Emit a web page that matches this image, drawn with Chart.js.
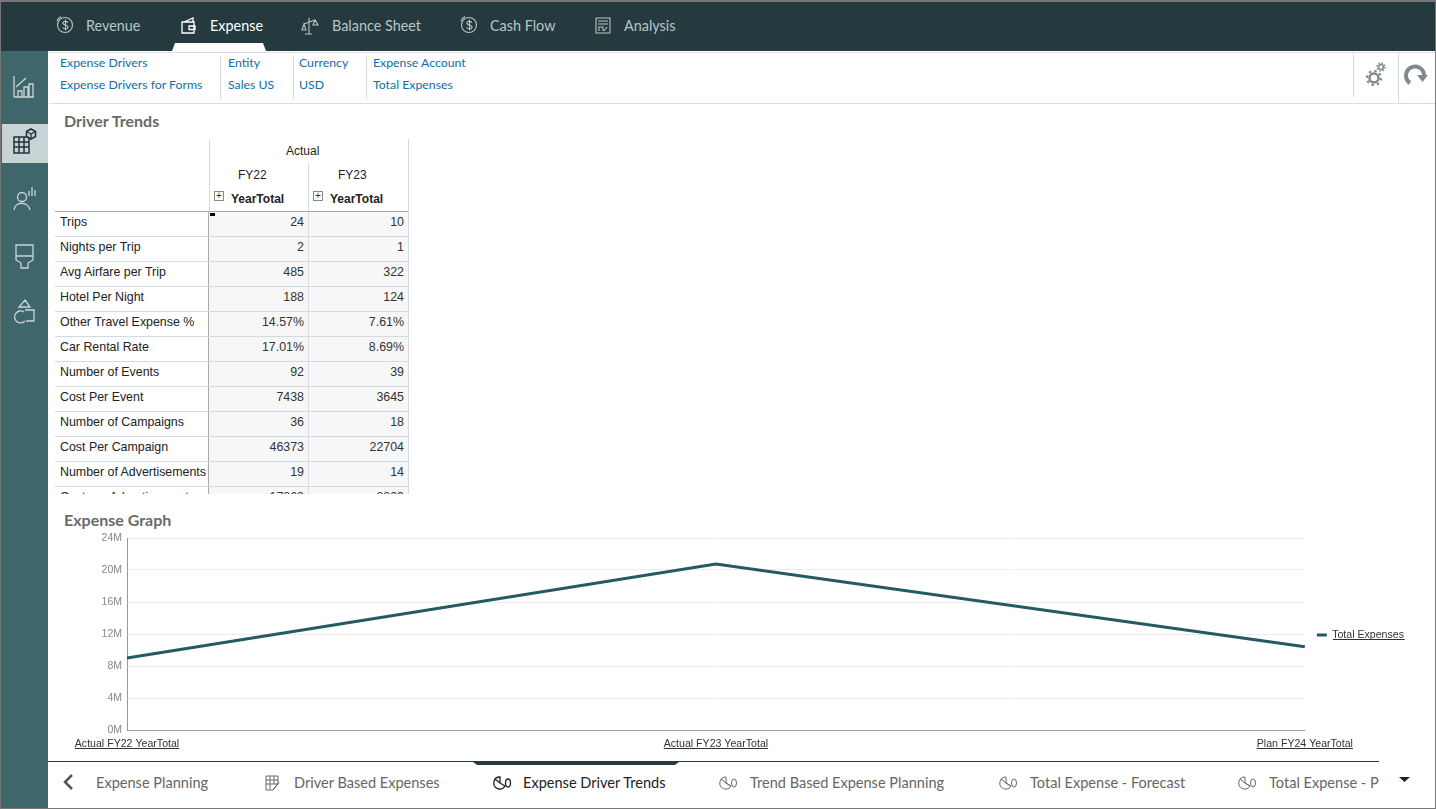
<!DOCTYPE html>
<html>
<head>
<meta charset="utf-8">
<title>Expense Driver Trends</title>
<script src="https://cdn.jsdelivr.net/npm/chart.js@4/dist/chart.umd.min.js"></script>
<style>
html, body { margin: 0; padding: 0; background: #fff; overflow: hidden; }
#page { position: absolute; left: 0; top: 0; width: 1436px; height: 809px; overflow: hidden; font-family: Lato, sans-serif; }
#page div { position: absolute; white-space: nowrap; }
#frame { left: 0; top: 0; width: 1434px; height: 806px; border: 1px solid #777; border-top-width: 2px; z-index: 9; pointer-events: none; }
#topbar { left: 0; top: 0; width: 1436px; height: 51px; background: #253a3f; }
#tabnotch { left: 172px; top: 43px; width: 94px; height: 8px; background: #fff; clip-path: polygon(3px 0, 91px 0, 94px 100%, 0 100%); }
.nav { top: 17px; font-size: 14.4px; color: #b9c4c6; line-height: 18px; }
#sidebar { left: 0; top: 51px; width: 48px; height: 758px; background: #3f666b; }
#sideactive { left: 2px; top: 124px; width: 46px; height: 39px; background: #c7d3d4; }
#povbar { left: 49px; top: 52px; width: 1387px; height: 50px; border-bottom: 1px solid #d8dee4; border-top: 1px solid #d8dee4; background: #fff; }
.link { font-size: 12.3px; color: #0d6fa8; line-height: 14px; }
.vsep { width: 1px; background: #d3dbe2; }
.title { font-size: 16px; font-weight: 700; color: #6a6a6a; line-height: 18px; }
.cell { font-family: "Liberation Sans", Arial, sans-serif; font-size: 12.4px; line-height: 14px; color: #222; }
.head { font-size: 12px; }
.num { text-align: right; color: #333; }
#grid { left: 55px; top: 139px; width: 355px; height: 355px; overflow: hidden; }
.bottomtab { top: 774px; font-size: 14.55px; color: #666; line-height: 18px; }
canvas { display: block; }
#chartbox { left: 48px; top: 519px; width: 1364px; height: 231px; }
</style>
</head>
<body>
<div id="page">
  <div id="topbar"></div>
  <div id="tabnotch"></div>
  <div class="nav" style="left:86px">Revenue</div>
  <div class="nav" style="left:210px;color:#fff">Expense</div>
  <div class="nav" style="left:332px">Balance Sheet</div>
  <div class="nav" style="left:490px">Cash Flow</div>
  <div class="nav" style="left:624px">Analysis</div>

  <svg style="position:absolute;left:0;top:0;z-index:2" width="720" height="51" fill="none" stroke="#b9c4c6" stroke-width="1.1">
    <circle cx="65" cy="25" r="7.500"/><path d="M57 21a8.500 8.500 0 0 1 4-4.500"/><path d="M68 22.500c-2-2-5.500-1-5 1s5 1 5 3.500-4 2.500-5.500 .5M65.500 19.500v11"/>
    <path stroke="#fff" stroke-width="1.300" d="M182 22h12v11h-12zM184 22l9-4v4M189 26h6v3.500h-6z"/>
    <path d="M305 34h7M309 18v16M304 24l11-4M304 24l-2 6h4zM315 20l-2 5h5z"/>
    <circle cx="469" cy="25" r="7.500"/><path d="M461 21a8.500 8.500 0 0 1 4-4.500"/><path d="M472 22.500c-2-2-5.500-1-5 1s5 1 5 3.500-4 2.500-5.500 .5M469.500 19.500v11"/>
    <path d="M596 18h14v15h-14zM598 21h10M598 24h10M599 31v-4h4v4M604 31l3-4"/>
  </svg>

  <div id="sidebar"></div>
  <div id="sideactive"></div>
  <svg style="position:absolute;left:0;top:60px;z-index:2" width="48" height="280" fill="none" stroke="#c9d5d6" stroke-width="1.300">
    <path d="M14 37V16M14 37h20M16 27l10-9M18 37v-6h4v6M24 37v-10h4v10M29 37v-13h4v13"/>
    <path stroke="#20343a" stroke-width="1.500" d="M14 77h15v16H14zM14 82h15M14 87h15M19 77v16M24 77v16"/>
    <path fill="#c7d3d4" stroke="#20343a" stroke-width="1.600" d="M31 69l4.500 2.500v5L31 79l-4.500-2.500v-5z"/>
    <path stroke="#20343a" d="M26.500 71.500L31 74l4.500-2.500M31 74v5"/>
    <circle cx="22" cy="137" r="4.500"/><path d="M14 150c1-9 14-9 16 0M29 136v-5M32 136v-9M35 136v-6"/>
    <path d="M16 185h17v15l-5 3v5h-7v-5l-5-3zM16 196h17"/>
    <path d="M25 240l5 7H19zM25 250h9v11h-8M24 252a6 6 0 1 0 1 9"/>
  </svg>

  <div id="povbar"></div>
  <div class="link" style="left:60px;top:56px">Expense Drivers</div>
  <div class="link" style="left:60px;top:78px">Expense Drivers for Forms</div>
  <div class="link" style="left:228px;top:56px">Entity</div>
  <div class="link" style="left:228px;top:78px">Sales US</div>
  <div class="link" style="left:299px;top:56px">Currency</div>
  <div class="link" style="left:299px;top:78px">USD</div>
  <div class="link" style="left:373px;top:56px">Expense Account</div>
  <div class="link" style="left:373px;top:78px">Total Expenses</div>
  <div class="vsep" style="left:220px;top:55px;height:44px"></div>
  <div class="vsep" style="left:293px;top:55px;height:44px"></div>
  <div class="vsep" style="left:366px;top:55px;height:44px"></div>
  <div class="vsep" style="left:1353px;top:53px;height:44px"></div>
  <div class="vsep" style="left:1398px;top:53px;height:50px"></div>
  <svg style="position:absolute;left:1360px;top:60px" width="70" height="32" fill="none" stroke="#7d8a8f">
    <circle cx="14" cy="18" r="4.500" stroke-width="2.500"/>
    <circle cx="14" cy="18" r="7" stroke-width="2.200" stroke-dasharray="2.500 3"/>
    <circle cx="21" cy="7" r="2.400" stroke-width="1.500"/>
    <circle cx="21" cy="7" r="4" stroke-width="1.500" stroke-dasharray="1.500 1.640"/>
    <path stroke-width="4" d="M50 23a9 9 0 1 1 14-8"/>
    <path stroke="none" fill="#7d8a8f" d="M57 15h11l-5.500 7z"/>
  </svg>

  <div class="title" style="left:64px;top:112px">Driver Trends</div>
  <div id="grid"></div>

  <div class="title" style="left:64px;top:511px">Expense Graph</div>
  <div id="chartbox"><canvas id="myChart" width="1364" height="231"></canvas></div>

  <div style="left:48px;top:761px;width:1331px;height:1px;background:#25393e"></div>
  <div style="left:473px;top:762px;width:206px;height:3px;background:#25393e;clip-path:polygon(0 0,100% 0,98% 100%,2% 100%)"></div>
  <div class="bottomtab" style="left:96px">Expense Planning</div>
  <div class="bottomtab" style="left:294px">Driver Based Expenses</div>
  <div class="bottomtab" style="left:523px;color:#222">Expense Driver Trends</div>
  <div class="bottomtab" style="left:750px">Trend Based Expense Planning</div>
  <div class="bottomtab" style="left:1030px">Total Expense - Forecast</div>
  <div class="bottomtab" style="left:1269px;width:110px;overflow:hidden">Total Expense - Plan</div>
  <svg style="position:absolute;left:48px;top:765px" width="1370" height="34" fill="none" stroke="#666" stroke-width="1">
    <path stroke="#555" stroke-width="2.500" d="M24 10l-7 7 7 7"/>
    <path d="M218 11h12v8l-5 6h-7zM218 15h12M218 19h12M222 11v13M226 11v8M225 25l6-8"/>
    <g stroke="#222" stroke-width="1.300"><path d="M452 18v-6a6 6 0 1 0 5 9zM452 18l5 3M447 14l5 4"/><ellipse cx="460" cy="18" rx="2.500" ry="4"/></g>
    <g><path d="M678 18v-6a6 6 0 1 0 5 9zM678 18l5 3M673 14l5 4"/><ellipse cx="686" cy="18" rx="2.500" ry="4"/></g>
    <g><path d="M958 18v-6a6 6 0 1 0 5 9zM958 18l5 3M953 14l5 4"/><ellipse cx="966" cy="18" rx="2.500" ry="4"/></g>
    <g><path d="M1197 18v-6a6 6 0 1 0 5 9zM1197 18l5 3M1192 14l5 4"/><ellipse cx="1205" cy="18" rx="2.500" ry="4"/></g>
    <path stroke="none" fill="#222" d="M1351 12h11l-5.500 5z"/>
  </svg>
  <div id="frame"></div>
</div>
<script>
// grid data
var rowNames = ['Trips', 'Nights per Trip', 'Avg Airfare per Trip', 'Hotel Per Night', 'Other Travel Expense %', 'Car Rental Rate', 'Number of Events', 'Cost Per Event', 'Number of Campaigns', 'Cost Per Campaign', 'Number of Advertisements', 'Cost per Advertisement'];
var fy22Values = ['24', '2', '485', '188', '14.57%', '17.01%', '92', '7438', '36', '46373', '19', '17863'];
var fy23Values = ['10', '1', '322', '124', '7.61%', '8.69%', '39', '3645', '18', '22704', '14', '8839'];

// chart data
var categories = ['Actual FY22 YearTotal', 'Actual FY23 YearTotal', 'Plan FY24 YearTotal'];
var totalExpenses = [9000000, 20750000, 10400000];
var seriesName = 'Total Expenses';
var yTicks = [0, 4000000, 8000000, 12000000, 16000000, 20000000, 24000000];

function addDiv(parent, css, text, cls) {
    var d = document.createElement('div');
    d.style.cssText = css;
    if (cls) d.className = cls;
    if (text !== undefined) d.textContent = text;
    parent.appendChild(d);
    return d;
}

function buildGrid() {
    var grid = document.getElementById('grid');
    // header lines
    addDiv(grid, 'left:154px;top:0;width:1px;height:72px;background:#d3dbe2');
    addDiv(grid, 'left:253px;top:24px;width:1px;height:48px;background:#d3dbe2');
    addDiv(grid, 'left:353px;top:0;width:1px;height:355px;background:#d3dbe2');
    addDiv(grid, 'left:231px;top:5px', 'Actual', 'cell head');
    addDiv(grid, 'left:183px;top:29px', 'FY22', 'cell head');
    addDiv(grid, 'left:283px;top:29px', 'FY23', 'cell head');
    addDiv(grid, 'left:176px;top:53px;font-weight:700', 'YearTotal', 'cell head');
    addDiv(grid, 'left:275px;top:53px;font-weight:700', 'YearTotal', 'cell head');
    addDiv(grid, 'left:159px;top:52px;width:8px;height:8px;border:1px solid #888;font:10px/8px "Liberation Sans";text-align:center;color:#333', '+');
    addDiv(grid, 'left:258px;top:52px;width:8px;height:8px;border:1px solid #888;font:10px/8px "Liberation Sans";text-align:center;color:#333', '+');
    addDiv(grid, 'left:0;top:72px;width:353px;height:1px;background:#aaa');

    for (var i = 0; i < rowNames.length; i++) {
        var top = 73 + i * 25;
        addDiv(grid, 'left:154px;top:' + top + 'px;width:199px;height:24px;background:#f7f7f8');
        addDiv(grid, 'left:0;top:' + (top + 24) + 'px;width:353px;height:1px;background:#d3dbe2');
        addDiv(grid, 'left:153px;top:' + top + 'px;width:1px;height:24px;background:#aaa');
        addDiv(grid, 'left:253px;top:' + top + 'px;width:1px;height:24px;background:#d8dee4');
        addDiv(grid, 'left:5px;top:' + (top + 3) + 'px', rowNames[i], 'cell');
        addDiv(grid, 'left:154px;top:' + (top + 3) + 'px;width:95px', fy22Values[i], 'cell num');
        addDiv(grid, 'left:254px;top:' + (top + 3) + 'px;width:95px', fy23Values[i], 'cell num');
    }
    addDiv(grid, 'left:155px;top:74px;width:5px;height:3px;background:#000');
}
buildGrid();

var xFont = '10.6px "Liberation Sans"';
var labelFont = { family: 'Liberation Sans', size: 10.6 };
var yTickFont = { family: 'Liberation Sans', size: 10.5 };

// chart.js has no underlined labels so draw the underlines after the chart
var underlinePlugin = {
    id: 'underlines',
    afterLayout: function(chart) {
        // legend sits on the middle of the plot, not the middle of the canvas
        chart.legend.top -= 9;
        chart.legend.bottom -= 9;
        chart.legend.left += 2;
        chart.legend.right += 2;
    },
    afterDraw: function(chart) {
        var ctx = chart.ctx;
        var xScale = chart.scales.x;
        ctx.save();
        ctx.strokeStyle = '#333';
        ctx.lineWidth = 1;
        ctx.font = xFont;
        xScale.ticks.forEach(function(t, i) {
            var w = ctx.measureText(t.label).width;
            var px = xScale.getPixelForTick(i);
            ctx.beginPath();
            ctx.moveTo(px - w / 2, 229.5);
            ctx.lineTo(px + w / 2, 229.5);
            ctx.stroke();
        });
        var hit = chart.legend.legendHitBoxes[0];
        var lw = ctx.measureText(seriesName).width;
        var lx = hit.left + 16;
        ctx.beginPath();
        ctx.moveTo(lx, 120.5);
        ctx.lineTo(lx + lw, 120.5);
        ctx.stroke();
        ctx.restore();
    }
};

var ctx = document.getElementById('myChart').getContext('2d');
var myChart = new Chart(ctx, {
    type: 'line',
    data: {
        labels: categories,
        datasets: [{
            label: seriesName,
            data: totalExpenses,
            borderColor: '#245b62',
            backgroundColor: '#245b62',
            borderWidth: 3,
            pointRadius: 0,
            tension: 0
        }]
    },
    options: {
        responsive: false,
        animation: false,
        layout: { padding: { top: 19, bottom: 0, left: 0, right: 0 } },
        plugins: {
            tooltip: { enabled: false },
            legend: {
                position: 'right',
                labels: {
                    usePointStyle: true,
                    pointStyle: 'line',
                    pointStyleWidth: 10,
                    boxHeight: 10,
                    color: '#333',
                    font: labelFont,
                    padding: 10
                }
            }
        },
        scales: {
            x: {
                offset: false,
                grid: { display: false },
                border: { color: '#999' },
                ticks: { color: '#333', font: labelFont, autoSkip: false, maxRotation: 0, padding: 0 },
                afterFit: function(scale) { scale.height = 20; }
            },
            y: {
                min: 0,
                max: 24000000,
                afterBuildTicks: function(scale) {
                    scale.ticks = yTicks.map(function(v) { return { value: v }; });
                },
                grid: { color: '#ebebf2', drawTicks: false },
                border: { color: '#999' },
                ticks: {
                    color: '#888',
                    font: yTickFont,
                    padding: 5,
                    callback: function(v) { return (v / 1000000) + 'M'; }
                },
                afterFit: function(scale) { scale.width = 79; }
            }
        }
    },
    plugins: [underlinePlugin]
});
</script>
</body>
</html>
